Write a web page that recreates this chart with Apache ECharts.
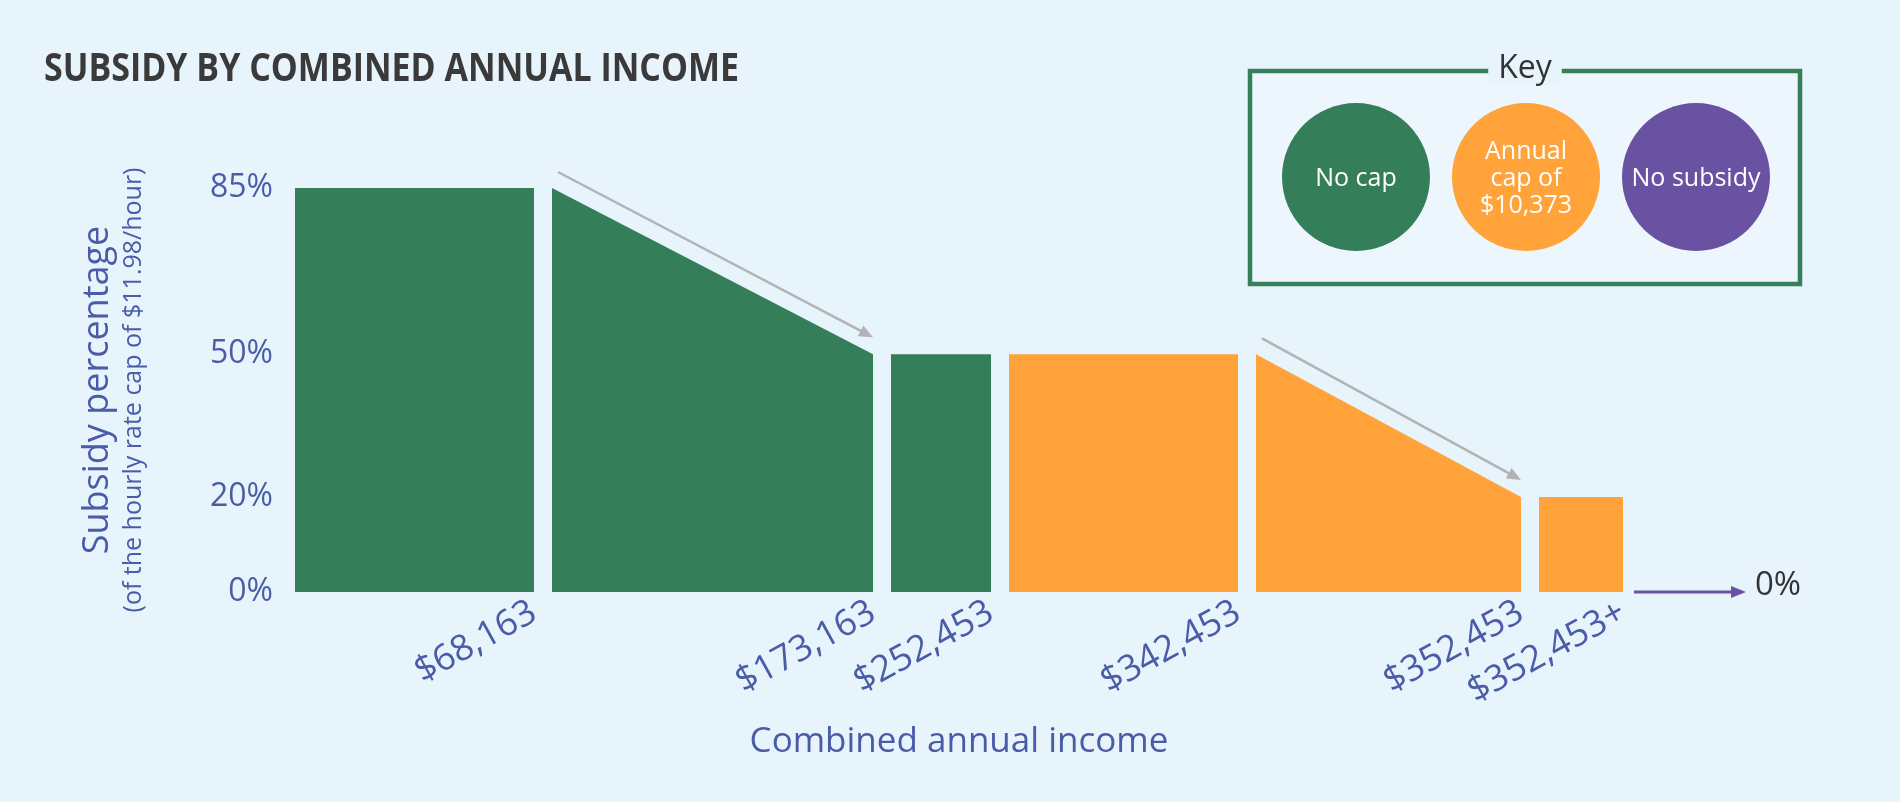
<!DOCTYPE html>
<html>
<head>
<meta charset="utf-8">
<script src="https://cdn.jsdelivr.net/npm/echarts@6/dist/echarts.min.js"></script>
<style>
  html, body { margin: 0; padding: 0; background: #e7f4fc; }
  #chart { width: 1900px; height: 802px; }
</style>
</head>
<body>
<div id="chart"></div>
<script>
// income band upper limits (x labels)
const incomeLabels = ["$68,163", "$173,163", "$252,453", "$342,453", "$352,453", "$352,453+"];
// subsidy % at start / end of each band
const subsidyFrom = [85, 85, 50, 50, 50, 20];
const subsidyTo = [85, 50, 50, 50, 20, 20];
// 0 = no cap, 1 = annual cap
const capKind = [0, 0, 0, 1, 1, 1];
const beyondSubsidy = 0; // past the last band
const yTicks = [0, 20, 50, 85];

const keyLabels = ["No cap", "Annual\ncap of\n$10,373", "No subsidy"];
const keyColors = ["#347e5a", "#ffa33a", "#6a52a3"];

// drawn width of each band, the chart is not to scale
const bandWidths = [239, 321, 100, 229, 265, 84];
const GAP = 18;

const labelColor = "#4a5ca8";
const bg = "#e7f4fc";

let bands = [];
let ends = [];
let cur = 0;
for (let i = 0; i < bandWidths.length; i++) {
  bands.push([cur, cur + bandWidths[i], subsidyFrom[i], subsidyTo[i], capKind[i]]);
  ends.push(cur + bandWidths[i]);
  cur += bandWidths[i] + GAP;
}
const xMax = ends[ends.length - 1];
bands.push([xMax + 11, xMax + 123, beyondSubsidy, beyondSubsidy, 2]);

function labelFor(v) {
  const i = ends.indexOf(v);
  return i >= 0 ? incomeLabels[i] : "";
}

function arrowHead(p, dir, len, half, color) {
  const ux = dir[0], uy = dir[1];
  const bx = p[0] - ux * len, by = p[1] - uy * len;
  return {
    type: "polygon",
    shape: { points: [p, [bx - uy * half, by + ux * half], [bx + uy * half, by - ux * half]] },
    style: { fill: color }
  };
}

function renderItem(params, api) {
  const x0 = api.value(0), x1 = api.value(1);
  const s0 = api.value(2), s1 = api.value(3), k = api.value(4);
  if (k === 2) {
    const a = api.coord([x0, s0]);
    const b = api.coord([x1, s1]);
    return {
      type: "group",
      children: [
        { type: "line", shape: { x1: a[0], y1: a[1], x2: b[0] - 10, y2: b[1] }, style: { stroke: keyColors[2], lineWidth: 3 } },
        arrowHead(b, [1, 0], 15, 6, keyColors[2]),
        {
          type: "text",
          style: { x: b[0] + 9, y: b[1] - 6, text: beyondSubsidy + "%", fill: "#333", font: "33px 'Open Sans'", textAlign: "left", textVerticalAlign: "middle" }
        }
      ]
    };
  }
  const p00 = api.coord([x0, 0]);
  const p0 = api.coord([x0, s0]);
  const p1 = api.coord([x1, s1]);
  const p10 = api.coord([x1, 0]);
  const children = [{
    type: "polygon",
    shape: { points: [p00, p0, p1, p10] },
    style: { fill: keyColors[k] }
  }];
  if (s0 !== s1) {
    const a = [p0[0] + 6, p0[1] - 16];
    const b = [p1[0], p1[1] - 17];
    const dx = b[0] - a[0], dy = b[1] - a[1];
    const L = Math.sqrt(dx * dx + dy * dy);
    const dir = [dx / L, dy / L];
    children.push({
      type: "line",
      shape: { x1: a[0], y1: a[1], x2: b[0] - dir[0] * 10, y2: b[1] - dir[1] * 10 },
      style: { stroke: "#b3b3b3", lineWidth: 2.5 }
    });
    children.push(arrowHead(b, dir, 14, 6, "#b3b3b3"));
  }
  return { type: "group", children: children };
}

// condensed title: squeeze a bold face to the reference width
const titleText = "SUBSIDY BY COMBINED ANNUAL INCOME";
const titleFont = "bold 40px 'Open Sans'";
const ctx = document.createElement("canvas").getContext("2d");
ctx.font = titleFont;
const titleScale = 695 / ctx.measureText(titleText).width;

const keyCenters = [1356, 1526, 1696];
let keyEls = [
  {
    type: "rect",
    shape: { x: 1250, y: 71, width: 550, height: 213 },
    style: { fill: "#eef6fd", stroke: "#35805a", lineWidth: 4.5 }
  },
  {
    type: "text",
    x: 1525, y: 69,
    style: { text: "Key", font: "32px 'Open Sans'", fill: "#333", textAlign: "center", textVerticalAlign: "middle", backgroundColor: bg, padding: [0, 10] }
  }
];
for (let i = 0; i < keyLabels.length; i++) {
  keyEls.push({
    type: "circle",
    shape: { cx: keyCenters[i], cy: 177, r: 74 },
    style: { fill: keyColors[i] }
  });
  keyEls.push({
    type: "text",
    x: keyCenters[i], y: 179,
    style: { text: keyLabels[i], font: "25px 'Open Sans'", fill: "#fff", textAlign: "center", textVerticalAlign: "middle", lineHeight: 27 }
  });
}

const chart = echarts.init(document.getElementById("chart"));
chart.setOption({
  backgroundColor: bg,
  animation: false,
  textStyle: { fontFamily: "'Open Sans'" },
  grid: { left: 295, right: 1900 - 295 - xMax, top: 188, bottom: 210 },
  graphic: {
    elements: [
      {
        type: "text",
        x: 44, y: 70,
        scaleX: titleScale,
        style: { text: titleText, font: titleFont, fill: "#3a3a3a", textVerticalAlign: "middle" }
      }
    ].concat(keyEls)
  },
  xAxis: {
    type: "value",
    min: 0,
    max: xMax,
    axisLine: { show: false },
    axisTick: { show: false },
    splitLine: { show: false },
    axisLabel: {
      customValues: ends,
      rotate: 29,
      margin: 18,
      fontSize: 36,
      color: labelColor,
      formatter: labelFor
    },
    name: "Combined annual income",
    nameLocation: "middle",
    nameGap: 133,
    nameTextStyle: { fontSize: 35, color: labelColor }
  },
  yAxis: {
    type: "value",
    min: 0,
    max: 85,
    axisLine: { show: false },
    axisTick: { show: false },
    splitLine: { show: false },
    axisLabel: {
      customValues: yTicks,
      formatter: "{value}%",
      fontSize: 32,
      margin: 22,
      color: labelColor
    },
    name: "{a|Subsidy percentage}\n{b|(of the hourly rate cap of $11.98/hour)}",
    nameLocation: "middle",
    nameRotate: 90,
    nameGap: 146,
    nameTextStyle: {
      color: labelColor,
      align: "center",
      rich: {
        a: { fontSize: 36, lineHeight: 42, color: labelColor },
        b: { fontSize: 25, lineHeight: 30, color: labelColor }
      }
    }
  },
  series: [{
    type: "custom",
    clip: false,
    renderItem: renderItem,
    encode: { x: [0, 1], y: [2, 3] },
    data: bands
  }]
});
</script>
</body>
</html>
